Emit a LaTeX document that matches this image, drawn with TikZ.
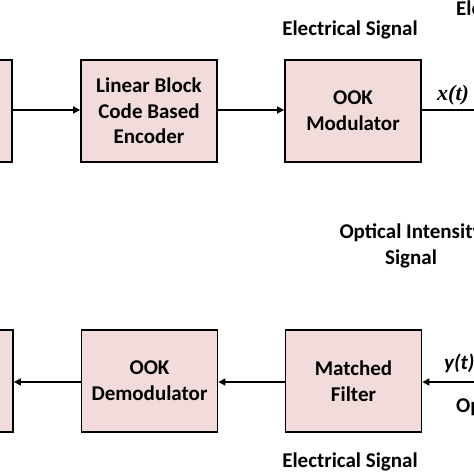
\documentclass[tikz,border=0pt]{standalone}
\usepackage{fontspec}
\setmainfont{Carlito}
\newfontfamily\timesf{Liberation Serif}
\usetikzlibrary{arrows.meta}
\definecolor{boxfill}{HTML}{F2DCDB}
\tikzset{
  blk/.style={draw=black, line width=1.8pt, fill=boxfill, minimum width=136pt, minimum height=102pt, inner sep=0pt, align=center, font=\fontsize{21}{25.7}\selectfont\bfseries},
  conn/.style={line width=1.5pt, -{Triangle[length=7pt,width=7pt]}},
  plainline/.style={line width=1.5pt},
  lbl/.style={font=\fontsize{21}{26}\selectfont\bfseries, align=center, inner sep=0pt}
}
\begin{document}
\begin{tikzpicture}[x=1pt,y=-1pt]
\useasboundingbox (0,0) rectangle (474,474);
\clip (0,0) rectangle (474,474);
% top row
\node[blk, minimum width=112pt] (src) at (-44,111) {};
\node[blk] (enc) at (149,111) {Linear Block\\Code Based\\Encoder};
\node[blk] (mod) at (353,111) {OOK\\Modulator};
\coordinate (xend) at (480,110);
\draw[conn] (src.east |- 0,110) -- (enc.west |- 0,110);
\draw[conn] (enc.east |- 0,110) -- (mod.west |- 0,110);
\draw[plainline] (mod.east |- 0,110) -- (xend);
\node[font=\fontsize{22}{24}\selectfont\timesf\bfseries\itshape, anchor=base west, inner sep=0pt] (xt) at (437,100) {x(t)};
\node[lbl] (es1) at (350,30) {Electrical Signal};
\node[lbl, anchor=west] (es2) at (456,10) {Electrical Signal};
% middle label
\node[lbl] (ois) at (411,246) {Optical Intensity\\Signal};
% bottom row
\node[blk, minimum width=112pt] (snk) at (-43,381) {};
\node[blk] (dem) at (149.5,381) {OOK\\Demodulator};
\node[blk] (mf) at (353.5,381) {Matched\\Filter};
\coordinate (ystart) at (480,382);
\draw[conn] (ystart) -- (mf.east |- 0,382);
\draw[conn] (mf.west |- 0,382) -- (dem.east |- 0,382);
\draw[conn] (dem.west |- 0,382) -- (snk.east |- 0,382);
\node[font=\fontsize{21}{24}\selectfont\bfseries\itshape, anchor=west, inner sep=0pt] (yt) at (444,363) {y(t)};
\node[lbl, anchor=west] (op) at (456,407) {Optical Intensity Signal};
\node[lbl] (es3) at (350,462) {Electrical Signal};
\end{tikzpicture}
\end{document}
